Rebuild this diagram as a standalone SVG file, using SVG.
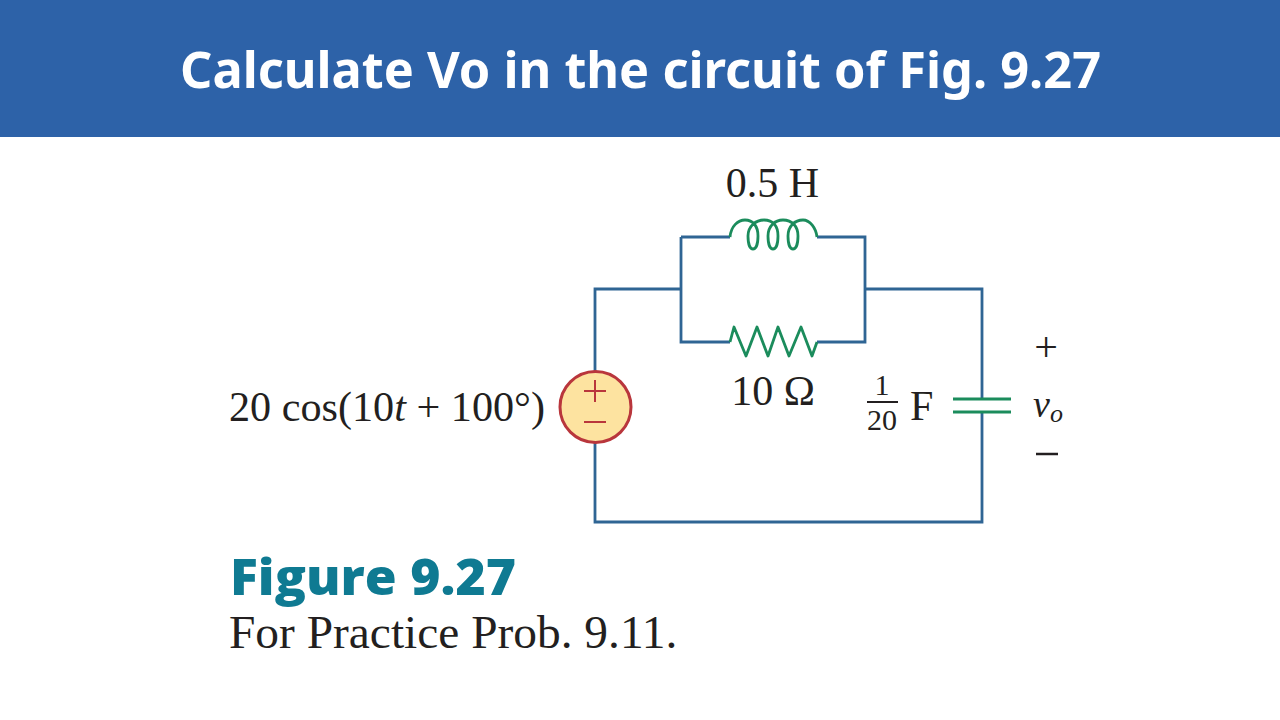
<svg xmlns="http://www.w3.org/2000/svg" width="1280" height="720" viewBox="0 0 1280 720">
<style>
.t{font-family:"Liberation Serif","Times New Roman",serif;fill:#231f20;font-size:42px}
.w{fill:none;stroke:#2f6594;stroke-width:2.800}
.g{fill:none;stroke:#1b8c5c;stroke-width:2.800;stroke-linejoin:round}
</style>
<rect width="1280" height="720" fill="#ffffff"/>
<g id="banner"><rect width="1280" height="137" fill="#2d62a8"/>
<text x="640.500" y="88" text-anchor="middle" font-family="'Noto Sans','Open Sans',sans-serif" font-weight="700" font-size="50" fill="#ffffff" textLength="921" lengthAdjust="spacingAndGlyphs">Calculate Vo in the circuit of Fig. 9.27</text></g>
<g id="connectors">
<path class="w" d="M595 371V289H681M681 237H730M817 237H865V342H817M730 342H681V237M865 289H982V399M982 412V522H595V443"/>
</g>
<g id="inductor"><path class="g" d="M730 237C731 226 738 220 745 220C753 220 758 226 758 236C758 244 756 249 753 249C750 249 748 244 748 236C748 226 756 220 764 220C773 220 778 226 778 236C778 244 776 249 773 249C770 249 768 244 768 236C768 226 775 220 783 220C792 220 798 226 798 236C798 244 796 249 793 249C790 249 788 244 788 236C788 226 795 220 803 220C810 220 816 228 817 237"/>
<text class="t" x="772.500" y="197" text-anchor="middle">0.5 H</text></g>
<g id="resistor"><path class="g" d="M730 342L734 327L746 356L757 327L768 356L778 327L789 356L801 327L812 356L817 342"/>
<text class="t" x="773" y="405" text-anchor="middle">10 Ω</text></g>
<g id="capacitor"><path class="g" d="M953 399H1011M953 412H1011"/>
<text class="t" x="882" y="395" text-anchor="middle" style="font-size:30px">1</text>
<path d="M867 402H898" stroke="#231f20" stroke-width="2"/>
<text class="t" x="882" y="430" text-anchor="middle" style="font-size:30px">20</text>
<text class="t" x="910" y="420">F</text></g>
<g id="output">
<text class="t" x="1046" y="361" text-anchor="middle">+</text>
<text class="t" x="1033" y="417" font-style="italic" style="font-size:38px">v<tspan dy="5" style="font-size:26px">o</tspan></text>
<path d="M1036 454H1058" stroke="#231f20" stroke-width="2.500"/></g>
<g id="source"><circle cx="595.500" cy="407" r="35.500" fill="#fde3a0" stroke="#b9363c" stroke-width="3"/>
<path d="M584 391H606M595 380V402M584 422H606" stroke="#b9363c" stroke-width="2" fill="none"/>
<text class="t" x="229" y="421" textLength="316" lengthAdjust="spacingAndGlyphs">20 cos(10<tspan font-style="italic">t</tspan> + 100°)</text></g>
<g id="caption">
<text x="230" y="595" font-family="'Open Sans','DejaVu Sans',sans-serif" font-weight="800" font-size="49" fill="#0f7a92" textLength="286" lengthAdjust="spacingAndGlyphs">Figure 9.27</text>
<text class="t" x="229" y="648" style="font-size:47.400px">For Practice Prob. 9.11.</text></g>
</svg>
